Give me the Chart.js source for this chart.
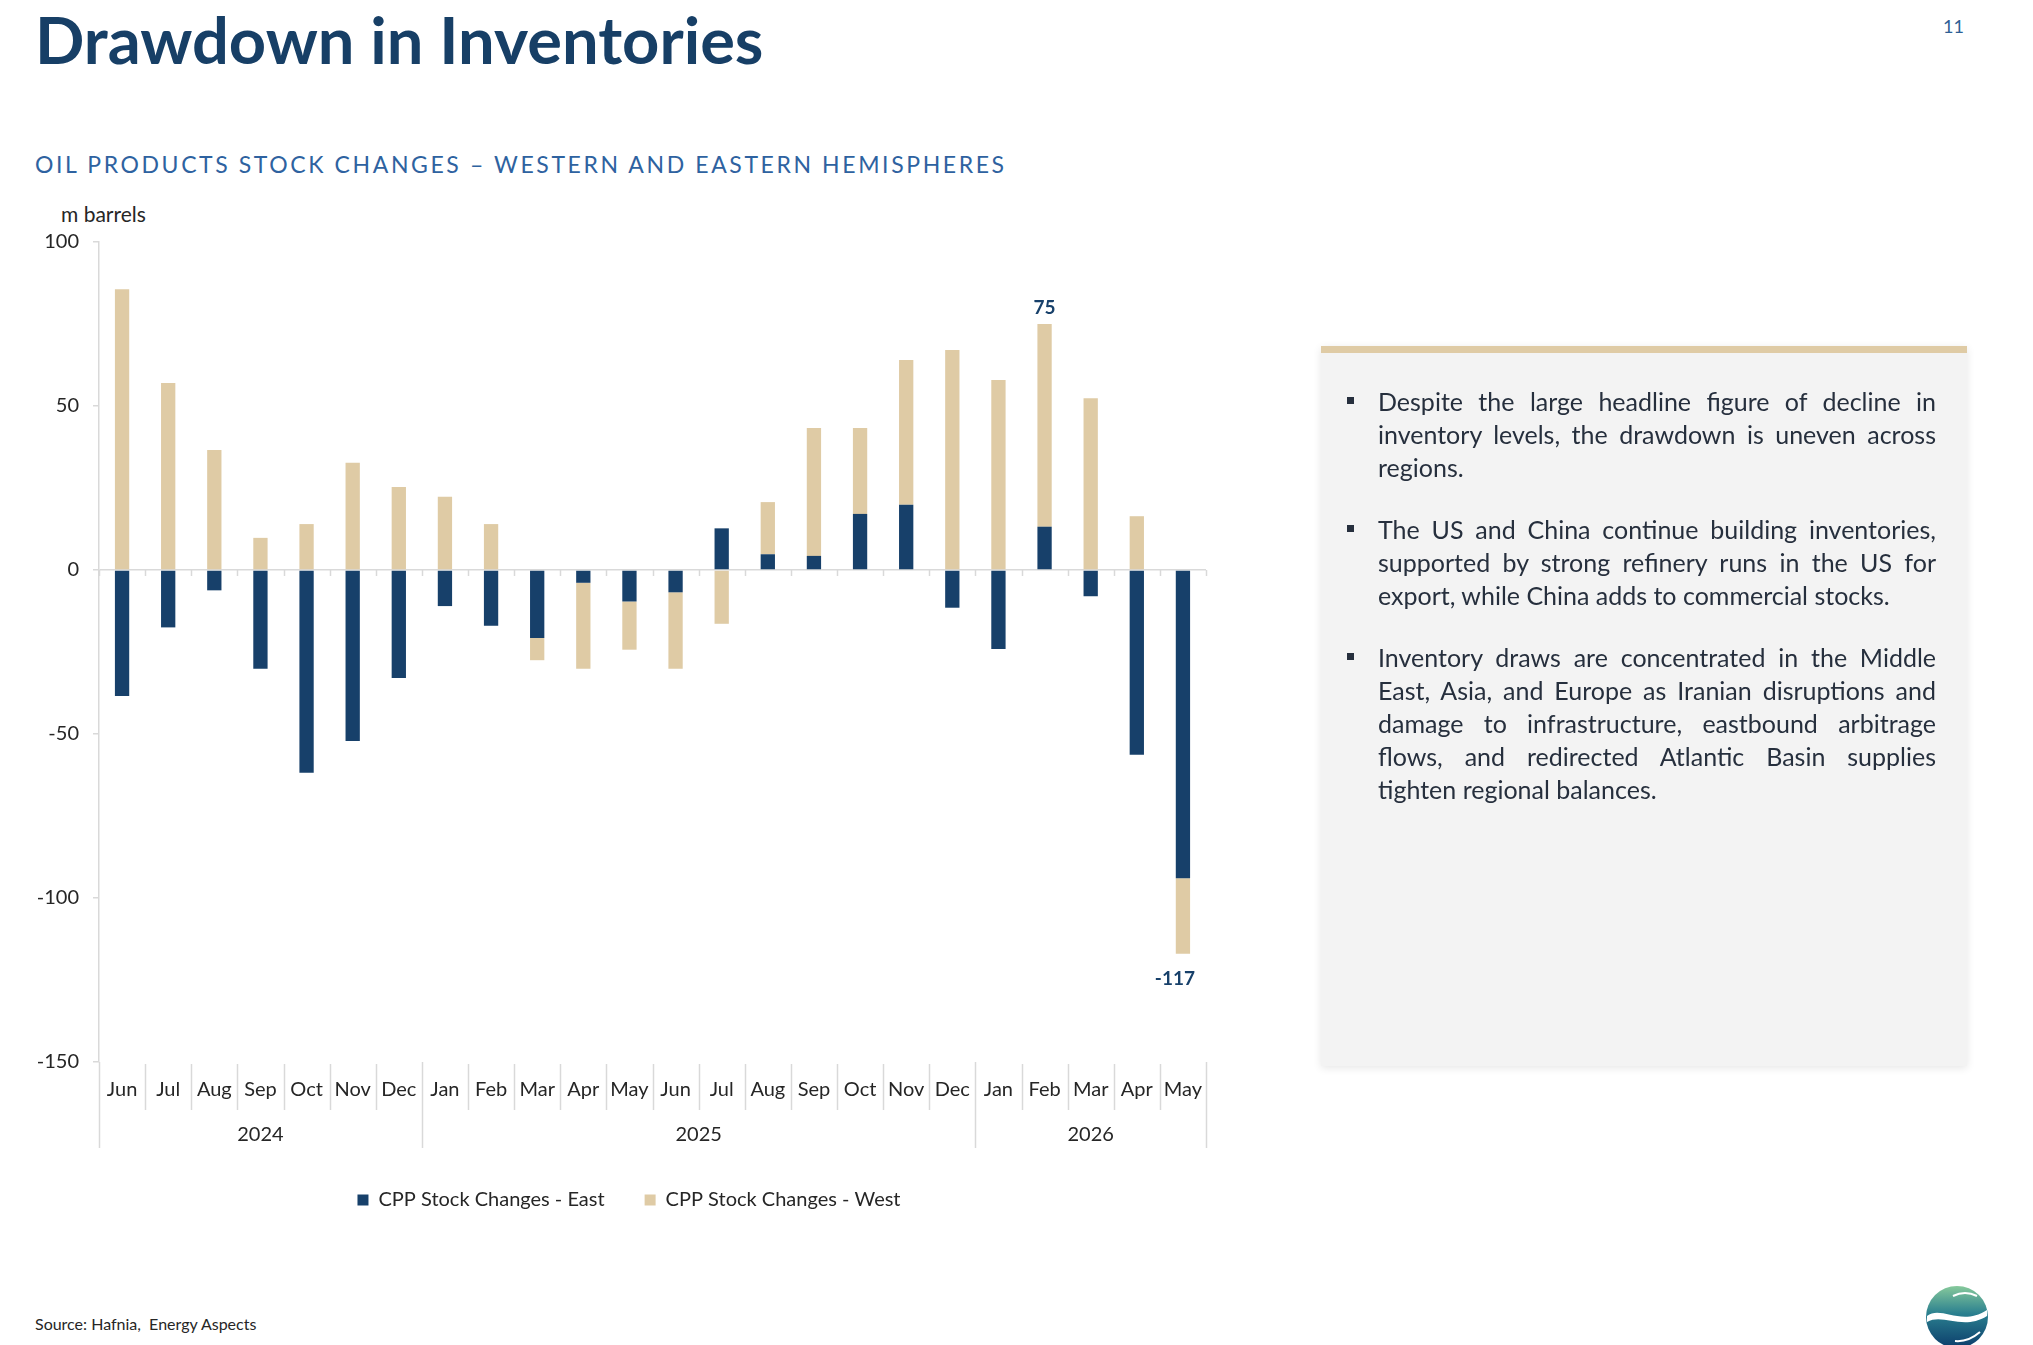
<!DOCTYPE html>
<html>
<head>
<meta charset="utf-8">
<title>Drawdown in Inventories</title>
<script src="https://cdn.jsdelivr.net/npm/chart.js@4.4.1/dist/chart.umd.min.js"></script>
<style>
  html, body { margin: 0; padding: 0; background: #fff; }
  body { width: 2033px; height: 1345px; position: relative; overflow: hidden; font-family: Lato, 'Open Sans', sans-serif; }
  .title { position: absolute; left: 35px; top: 7px; font-weight: 700; font-size: 65px; line-height: 1; color: #173f66; white-space: nowrap; }
  .pagenum { position: absolute; left: 1943px; top: 17px; font-size: 18px; line-height: 1; color: #2e5f95; }
  .subtitle { position: absolute; left: 35px; top: 153px; font-size: 23px; line-height: 1; letter-spacing: 2.6px; color: #2e62a0; white-space: nowrap; }
  .unit { position: absolute; left: 61px; top: 203px; font-size: 21px; line-height: 1; color: #262626; }
  .source { position: absolute; left: 35px; top: 1316px; font-size: 16px; line-height: 1; color: #262626; }
  #chartBox { position: absolute; left: 0; top: 216px; }
  #chartBox canvas { display: block; }
  .panel { position: absolute; left: 1321px; top: 346px; width: 646px; height: 713px; background: #f3f3f3;
           border-top: 7px solid #dfcba5; box-shadow: 0 2px 8px rgba(0,0,0,0.10); }
  .notes { position: absolute; left: 57px; top: 32px; width: 558px; font-size: 25px; line-height: 33px; color: #262f3d; }
  .para { position: relative; margin-bottom: 29px; }
  .para::before { content: ''; position: absolute; left: -31px; top: 12px; width: 7px; height: 7px; background: #262f3d; }
  .ln { display: block; text-align: justify; text-align-last: justify; }
  .ln.last { text-align-last: left; }
  .logo { position: absolute; left: 1925px; top: 1285px; }
</style>
</head>
<body>
<div class="title">Drawdown in Inventories</div>
<div class="pagenum">11</div>
<div class="subtitle">OIL PRODUCTS STOCK CHANGES – WESTERN AND EASTERN HEMISPHERES</div>
<div class="unit">m barrels</div>
<div id="chartBox"><canvas id="stockChart" width="1314" height="1014"></canvas></div>

<div class="panel">
  <div class="notes">
    <div class="para">
      <span class="ln">Despite the large headline figure of decline in</span>
      <span class="ln">inventory levels, the drawdown is uneven across</span>
      <span class="ln last">regions.</span>
    </div>
    <div class="para">
      <span class="ln">The US and China continue building inventories,</span>
      <span class="ln">supported by strong refinery runs in the US for</span>
      <span class="ln last">export, while China adds to commercial stocks.</span>
    </div>
    <div class="para">
      <span class="ln">Inventory draws are concentrated in the Middle</span>
      <span class="ln">East, Asia, and Europe as Iranian disruptions and</span>
      <span class="ln">damage to infrastructure, eastbound arbitrage</span>
      <span class="ln">flows, and redirected Atlantic Basin supplies</span>
      <span class="ln last">tighten regional balances.</span>
    </div>
  </div>
</div>

<div class="source">Source: Hafnia,&nbsp; Energy Aspects</div>

<svg class="logo" width="64" height="64" viewBox="0 0 64 64">
  <defs>
    <linearGradient id="lg" x1="0" y1="0" x2="0" y2="1">
      <stop offset="0" stop-color="#86c99b"/>
      <stop offset="0.45" stop-color="#2a7f8f"/>
      <stop offset="1" stop-color="#0c3d6b"/>
    </linearGradient>
  </defs>
  <circle cx="32" cy="32" r="31" fill="url(#lg)"/>
  <path d="M2 31 C 16 20, 36 42, 62 25 L 62 31 C 38 46, 18 28, 2 37 Z" fill="#fff"/>
  <path d="M28 11 C 36 7, 44 7, 52 11" stroke="#fff" stroke-width="2" fill="none"/>
  <path d="M30 56 C 40 57, 48 53, 55 47" stroke="#fff" stroke-width="2" fill="none"/>
</svg>

<script>
// Monthly CPP stock changes, m barrels (Jun 2024 - May 2026)
const months = ['Jun', 'Jul', 'Aug', 'Sep', 'Oct', 'Nov', 'Dec',
                'Jan', 'Feb', 'Mar', 'Apr', 'May', 'Jun', 'Jul', 'Aug', 'Sep', 'Oct', 'Nov', 'Dec',
                'Jan', 'Feb', 'Mar', 'Apr', 'May'];
const years = ['2024', '2025', '2026'];
const yearSpans = [7, 12, 5];
const eastValues = [-38.4, -17.5, -6.2, -30.1, -61.8, -52.1, -32.9,
                    -11.0, -17.0, -20.7, -3.9, -9.6, -6.8, 12.7, 4.8, 4.3, 17.1, 19.9, -11.5,
                    -24.1, 13.2, -8.0, -56.3, -94.0];
const westValues = [85.6, 57.0, 36.6, 9.8, 14.0, 32.7, 25.3,
                    22.3, 14.0, -6.8, -26.2, -14.7, -23.3, -16.4, 15.9, 39.0, 26.2, 44.1, 67.1,
                    57.9, 61.8, 52.4, 16.4, -23.0];
const yMin = -150;
const yMax = 100;
const yStep = 50;

const navy = '#17406a';
const sand = '#dfcba5';
const axisGrey = '#d9d9d9';
const textColor = '#262626';

Chart.defaults.font.family = 'Lato, "Open Sans", sans-serif';
Chart.defaults.color = textColor;

// legend sits a little right of the canvas centre in the original
const legendNudge = {
    id: 'legendNudge',
    afterLayout(chart) {
        if (chart.legend) {
            chart.legend.left += 26;
            chart.legend.right += 26;
        }
    }
};

// separators under the axis, year row, and the labels on the extremes
const axisDecor = {
    id: 'axisDecor',
    afterDraw(chart) {
        const { ctx, chartArea } = chart;
        const x = chart.scales.x;
        const y = chart.scales.y;
        const y0 = y.getPixelForValue(0);
        const bottom = chartArea.bottom;

        ctx.save();
        ctx.strokeStyle = axisGrey;
        ctx.lineWidth = 1.5;
        ctx.beginPath();
        for (let i = 0; i <= months.length; i++) {
            const bx = Math.round(x.getPixelForValue(i - 0.5)) + 0.5;
            ctx.moveTo(bx, y0);
            ctx.lineTo(bx, y0 + 6);
            ctx.moveTo(bx, bottom + 2);
            ctx.lineTo(bx, bottom + 48);
        }
        let start = 0;
        const bounds = [0];
        yearSpans.forEach(n => { start += n; bounds.push(start); });
        bounds.forEach(b => {
            const bx = Math.round(x.getPixelForValue(b - 0.5)) + 0.5;
            ctx.moveTo(bx, bottom);
            ctx.lineTo(bx, bottom + 86);
        });
        ctx.stroke();

        ctx.fillStyle = textColor;
        ctx.font = '20px Lato, "Open Sans", sans-serif';
        ctx.textAlign = 'center';
        ctx.textBaseline = 'middle';
        years.forEach((yr, k) => {
            const cx = (x.getPixelForValue(bounds[k] - 0.5) + x.getPixelForValue(bounds[k + 1] - 0.5)) / 2;
            ctx.fillText(yr, cx, bottom + 73);
        });

        // net totals: label the highest and the lowest month
        const totals = eastValues.map((v, i) => v + westValues[i]);
        const hi = totals.indexOf(Math.max(...totals));
        const lo = totals.indexOf(Math.min(...totals));
        ctx.fillStyle = navy;
        ctx.font = 'bold 19px Lato, "Open Sans", sans-serif';
        const top = Math.max(0, eastValues[hi]) + Math.max(0, westValues[hi]);
        ctx.fillText(Math.round(totals[hi]), x.getPixelForValue(hi), y.getPixelForValue(top) - 16);
        const low = Math.min(0, eastValues[lo]) + Math.min(0, westValues[lo]);
        ctx.fillText(Math.round(totals[lo]), x.getPixelForValue(lo) - 8, y.getPixelForValue(low) + 25);
        ctx.restore();
    }
};

new Chart(document.getElementById('stockChart'), {
    type: 'bar',
    data: {
        labels: months,
        datasets: [
            {
                label: 'CPP Stock Changes - East',
                data: eastValues,
                backgroundColor: navy,
                borderWidth: 0,
                barPercentage: 0.31,
                categoryPercentage: 1
            },
            {
                label: 'CPP Stock Changes - West',
                data: westValues,
                backgroundColor: sand,
                borderWidth: 0,
                barPercentage: 0.31,
                categoryPercentage: 1
            }
        ]
    },
    options: {
        responsive: false,
        animation: false,
        layout: { padding: { top: 7, left: 0, right: 108, bottom: 10 } },
        plugins: {
            tooltip: { enabled: false },
            legend: {
                position: 'bottom',
                labels: {
                    boxWidth: 11,
                    boxHeight: 11,
                    padding: 40,
                    font: { size: 20 },
                    color: textColor
                }
            }
        },
        scales: {
            x: {
                stacked: true,
                grid: { display: false, drawTicks: false },
                border: { display: false },
                ticks: {
                    autoSkip: false,
                    maxRotation: 0,
                    padding: 16,
                    font: { size: 20 },
                    color: textColor
                },
                afterFit: scale => { scale.height = 88; }
            },
            y: {
                stacked: true,
                min: yMin,
                max: yMax,
                ticks: {
                    stepSize: yStep,
                    padding: 14,
                    font: { size: 20 },
                    color: textColor
                },
                grid: {
                    color: c => (c.tick && c.tick.value === 0) ? axisGrey : 'rgba(0,0,0,0)',
                    tickColor: axisGrey,
                    tickLength: 6,
                    lineWidth: 1.5
                },
                border: { color: axisGrey, width: 1.5 },
                afterFit: scale => { scale.width = 99; }
            }
        }
    },
    plugins: [legendNudge, axisDecor]
});
</script>
</body>
</html>
